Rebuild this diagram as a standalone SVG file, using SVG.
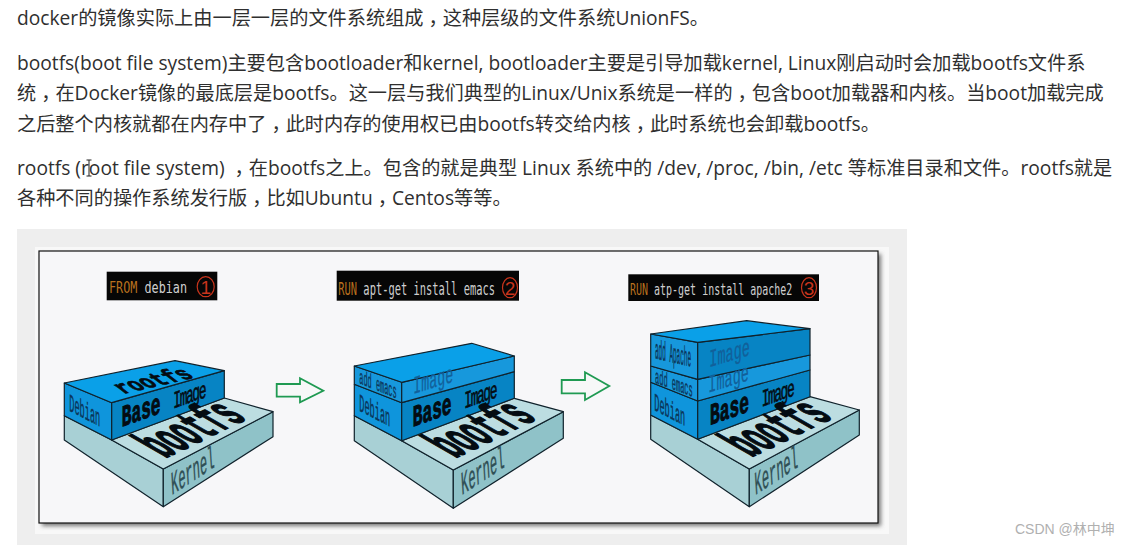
<svg xmlns="http://www.w3.org/2000/svg" width="1129" height="545" viewBox="0 0 1129 545">
<style>
.p{font-family:"Open Sans","Noto Sans CJK SC",sans-serif;font-size:19.2px;fill:#2f2f2f}
.q{letter-spacing:-5px}
.m{font-family:"Liberation Mono","DejaVu Sans Mono",monospace;font-size:20px;fill:#0b3558;stroke:#0b3558;stroke-width:.4}
.b{font-weight:bold;fill:#040c12;stroke:#040c12;stroke-width:.7}
.g{font-size:16px;font-weight:normal;letter-spacing:-1.8px;stroke-width:.4}
.k{fill:#2f4f55;stroke:#2f4f55;stroke-width:.25}
.i{fill:#12609a;stroke:#12609a;stroke-width:.2}
.hd{font-family:"DejaVu Sans Mono",monospace;font-size:12px;fill:#cfcfcf}
.or{fill:#b8701e}
.n{font-family:"Liberation Sans",sans-serif;font-size:19px;fill:#c8341c;text-anchor:middle}
.c{fill:none;stroke:#c8341c;stroke-width:1.2}
.kt{fill:#bcdde1}.kl{fill:#a8d0d5}.kr{fill:#8fc2c8}
.bt{fill:#0aa0e8}.bl{fill:#0f95dc}.br{fill:#0784c4}
.up{fill:#1798dc}
.s{stroke:#10222c;stroke-width:1.2;stroke-linejoin:round}
.a{fill:#f7f8f8;stroke:#1f9a52;stroke-width:1.8}
</style>
<defs><filter id="bl" x="-5%" y="-5%" width="110%" height="110%"><feGaussianBlur stdDeviation="2"/></filter></defs>
<rect width="1129" height="545" fill="#fff"/>
<g id="article">
<text class="p" x="17" y="25">docker的镜像实际上由一层一层的文件系统组成<tspan class="q" dx="5">，</tspan>这种层级的文件系统UnionFS。</text>
<text class="p" x="17" y="70">bootfs(boot file system)主要包含bootloader和kernel, bootloader主要是引导加载kernel, Linux刚启动时会加载bootfs文件系</text>
<text class="p" x="17" y="100">统<tspan class="q" dx="5">，</tspan>在Docker镜像的最底层是bootfs。这一层与我们典型的Linux/Unix系统是一样的<tspan class="q" dx="5">，</tspan>包含boot加载器和内核。当boot加载完成</text>
<text class="p" x="17" y="130.5">之后整个内核就都在内存中了<tspan class="q" dx="5">，</tspan>此时内存的使用权已由bootfs转交给内核<tspan class="q" dx="5">，</tspan>此时系统也会卸载bootfs。</text>
<text class="p" x="17" y="175">rootfs (root file system) <tspan class="q" dx="5">，</tspan>在bootfs之上。包含的就是典型 Linux 系统中的 /dev, /proc, /bin, /etc 等标准目录和文件。rootfs就是</text>
<text class="p" x="17" y="205">各种不同的操作系统发行版<tspan class="q" dx="5">，</tspan>比如Ubuntu<tspan class="q" dx="5">，</tspan>Centos等等。</text>
</g>
<path d="M86.500 160h5M89 160v16M86.500 176h5" fill="none" stroke="#222" stroke-width="1"/>
<rect x="17" y="229" width="890" height="316" fill="#eeeeee"/>
<rect x="35" y="247" width="854" height="287" fill="#f8f8f8"/>
<rect x="42" y="254" width="839" height="272" fill="#777" filter="url(#bl)"/>
<rect x="39" y="251" width="839" height="272" fill="#f7f7f9" stroke="#111" stroke-width="1.2"/>

<g id="step1">
<rect x="106.7" y="271.7" width="110.6" height="28.6" fill="#060606"/>
<text class="hd" transform="matrix(1,0,0,1.3,109,292.7)" textLength="78" lengthAdjust="spacingAndGlyphs"><tspan class="or">FROM</tspan> debian</text>
<ellipse class="c" cx="205.7" cy="286.7" rx="8.500" ry="10"/><text class="n" x="205.700" y="293.500">1</text>
<polygon class="kl s" points="64.3,415.7 111.7,440 163.3,469 163.3,506.7 64.3,440"/>
<polygon class="kr s" points="163.3,469 273,411.7 273,436.7 163.3,506.7"/>
<polygon class="kt s" points="111.7,440 224.3,398 273,411.7 163.3,469"/>
<polygon class="bl s" points="64.3,383 111.7,402.7 111.7,440 64.3,415.7"/>
<polygon class="br s" points="111.7,402.7 224.3,370.7 224.3,398 111.7,440"/>
<polygon class="bt s" points="64.3,383 175,360.7 224.3,370.7 111.7,402.7"/>
<text class="m b" transform="matrix(1,-.23,1.05,.8,123.3,394)">rootfs</text>
<text class="m" transform="matrix(.43,.222,0,1.25,69.3,410.7)">Debian</text>
<text class="m b" transform="matrix(.81,-.285,0,1.5,121.7,426.7)">Base<tspan class="g" dx="15.8">Image</tspan></text>
<text class="m b" transform="matrix(1.157,-.556,2.6,1.5,165,458.3)">bootfs</text>
<text class="m k" transform="matrix(.6,-.39,.1,1.6,171.7,495)">Kernel</text>
</g>

<g id="step2">
<rect x="336.7" y="270.7" width="182.3" height="30" fill="#060606"/>
<text class="hd" transform="matrix(1,0,0,1.4,338.3,295)" textLength="156.7" lengthAdjust="spacingAndGlyphs"><tspan class="or">RUN</tspan> apt-get install emacs</text>
<ellipse class="c" cx="510" cy="287.7" rx="7.500" ry="10"/><text class="n" x="510" y="294.500">2</text>
<polygon class="kl s" points="354.3,415.7 401.7,440.7 453.3,470 453.3,508.3 354.3,440.7"/>
<polygon class="kr s" points="453.3,470 563.3,411.7 563.3,438.3 453.3,508.3"/>
<polygon class="kt s" points="401.7,440.7 514.3,398.3 563.3,411.7 453.3,470"/>
<polygon class="bl s" points="354.3,384.3 401.7,402.7 401.7,440.7 354.3,415.7"/>
<polygon class="br s" points="401.7,402.7 514.3,371.7 514.3,398.3 401.7,440.7"/>
<polygon class="up s" points="354.3,366 401.7,382.3 401.7,402.7 354.3,384.3"/>
<polygon class="up s" points="401.7,382.3 514.3,356 514.3,371.7 401.7,402.7"/>
<polygon class="bt s" points="354.3,366 471.7,343.3 514.3,356 401.7,382.3"/>
<text class="m" transform="matrix(.346,.139,0,1,359.3,383.3)">add emacs</text>
<text class="m i" transform="matrix(.667,-.205,0,1.25,413.3,394)">Image</text>
<text class="m" transform="matrix(.43,.222,0,1.25,359.3,410.7)">Debian</text>
<text class="m b" transform="matrix(.81,-.285,0,1.5,412.7,426.7)">Base<tspan class="g" dx="15.8">Image</tspan></text>
<text class="m b" transform="matrix(1.157,-.556,2.6,1.5,455,458.3)">bootfs</text>
<text class="m k" transform="matrix(.6,-.39,.1,1.6,461.7,495)">Kernel</text>
</g>

<g id="step3">
<rect x="628.3" y="274.3" width="190.7" height="26.7" fill="#060606"/>
<text class="hd" transform="matrix(1,0,0,1.35,630,295)" textLength="162.3" lengthAdjust="spacingAndGlyphs"><tspan class="or">RUN</tspan> atp-get install apache2</text>
<ellipse class="c" cx="809" cy="287.7" rx="7.500" ry="10"/><text class="n" x="809" y="294.500">3</text>
<polygon class="kl s" points="650.7,415 697.7,439.3 749.3,469 749.3,506.7 650.7,439.3"/>
<polygon class="kr s" points="749.3,469 859.3,410 859.3,435 749.3,506.7"/>
<polygon class="kt s" points="697.7,439.3 810,396.7 859.3,410 749.3,469"/>
<polygon class="bl s" points="650.7,382.3 697.7,401 697.7,439.3 650.7,415"/>
<polygon class="br s" points="697.7,401 810,370 810,396.7 697.7,439.3"/>
<polygon class="up s" points="650.7,366 697.7,379.3 697.7,401 650.7,382.3"/>
<polygon class="up s" points="697.7,379.3 810,355 810,370 697.7,401"/>
<polygon class="up s" points="650.7,334 697.7,342.3 697.7,379.3 650.7,366"/>
<polygon class="br s" points="697.7,342.3 810,328.7 810,355 697.7,379.3"/>
<polygon class="bt s" points="650.7,334 746.7,320.7 810,328.7 697.7,342.3"/>
<text class="m" transform="matrix(.3,.07,0,1.35,655,358.3)">add Apache</text>
<text class="m i" transform="matrix(.678,-.205,0,1.25,709.3,367.3)">Image</text>
<text class="m" transform="matrix(.35,.13,0,1,655,382.7)">add emacs</text>
<text class="m i" transform="matrix(.678,-.205,0,1.25,708.3,392.7)">Image</text>
<text class="m" transform="matrix(.43,.222,0,1.25,654.3,410)">Debian</text>
<text class="m b" transform="matrix(.81,-.285,0,1.5,710,425)">Base<tspan class="g" dx="15.8">Image</tspan></text>
<text class="m b" transform="matrix(1.157,-.556,2.6,1.5,751,457.3)">bootfs</text>
<text class="m k" transform="matrix(.6,-.39,.1,1.6,755.3,495)">Kernel</text>
</g>

<g id="connectors">
<polygon class="a" points="276.7,384 300,384 300,378.3 323.3,390.7 300,402.3 300,396.7 276.7,396.7"/>
<polygon class="a" points="561.7,380 585,380 585,372.3 609.3,386 585,400 585,393.3 561.7,393.3"/>
</g>
<text id="watermark" x="1015" y="533.500" font-family="Liberation Sans,Noto Sans CJK SC,sans-serif" font-size="14px" fill="#b0b0b0">CSDN @林中坤</text>
</svg>
